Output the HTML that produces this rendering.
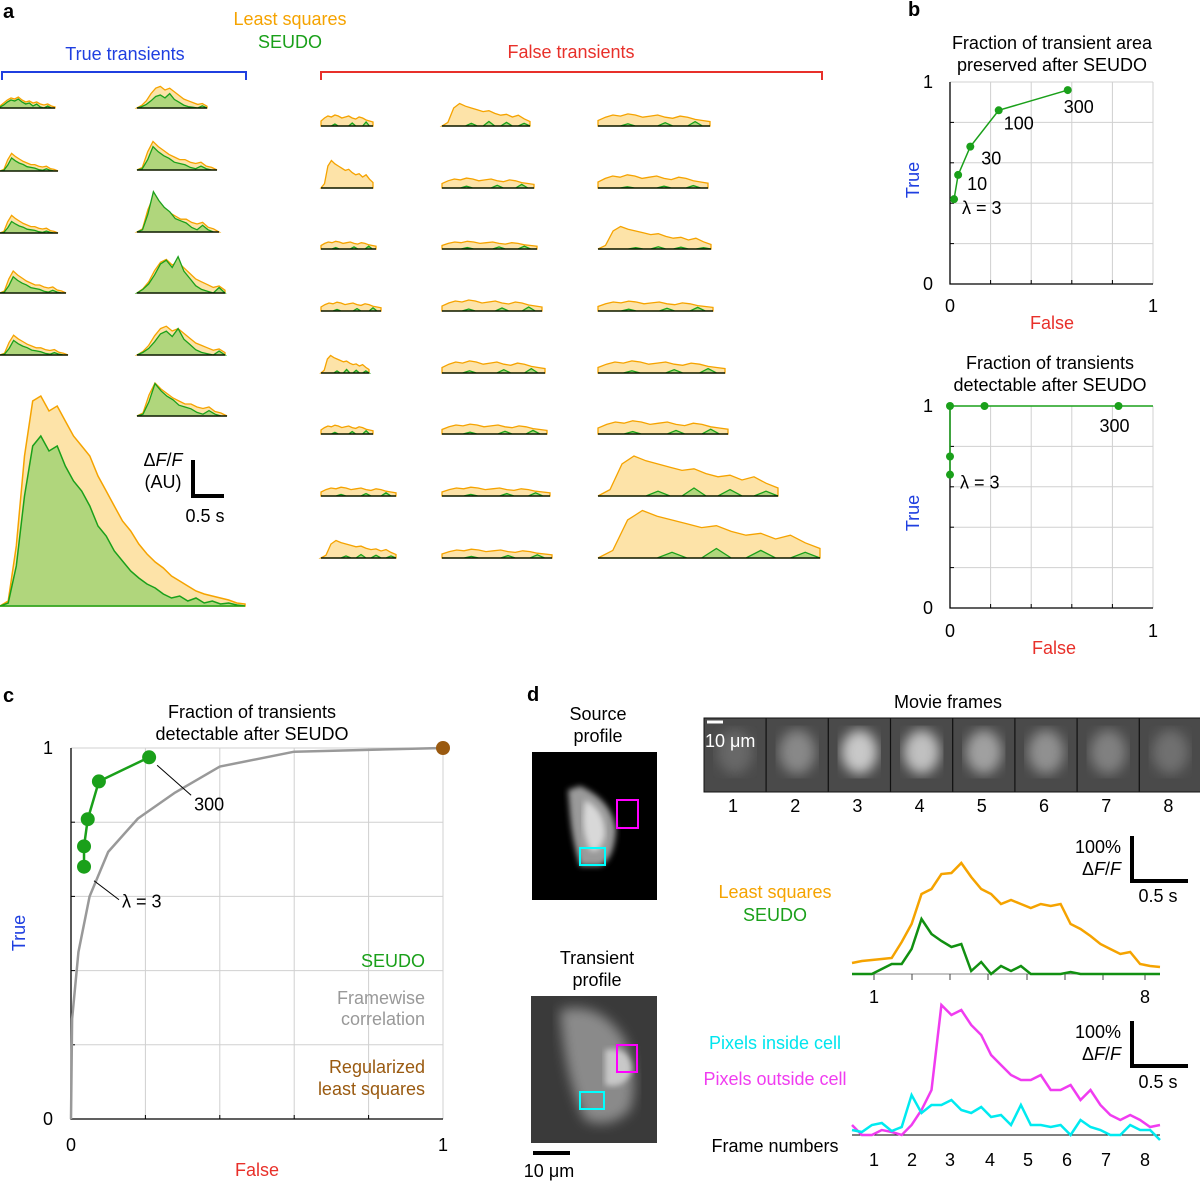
<!DOCTYPE html>
<html><head><meta charset="utf-8">
<style>
html,body{margin:0;padding:0;background:#fff}
svg{display:block;font-family:"Liberation Sans",sans-serif}
svg text{font-size:18px}
svg text.plabel{font-size:20px}
</style></head>
<body>
<svg id="fig" width="1200" height="1181" viewBox="0 0 1200 1181" xmlns="http://www.w3.org/2000/svg">
<defs>
<filter id="blur3"><feGaussianBlur stdDeviation="3"/></filter>
<filter id="blur6"><feGaussianBlur stdDeviation="6"/></filter>
</defs>
<g>
<text class="plabel" x="3" y="18" font-weight="bold">a</text>
<text x="290" y="25" fill="#f5a300" text-anchor="middle">Least squares</text>
<text x="290" y="48" fill="#1aa01a" text-anchor="middle">SEUDO</text>
<text x="125" y="60" fill="#1f3fe0" text-anchor="middle">True transients</text>
<path d="M2,80 V72 H246 V80" fill="none" stroke="#1f3fe0" stroke-width="2"/>
<text x="571" y="58" fill="#e8302a" text-anchor="middle">False transients</text>
<path d="M321,80 V72 H822 V80" fill="none" stroke="#e8302a" stroke-width="2"/>
<g id="traces"></g>
<g>
<text x="163" y="466" text-anchor="middle"><tspan>Δ</tspan><tspan font-style="italic">F</tspan><tspan>/</tspan><tspan font-style="italic">F</tspan></text>
<text x="163" y="488" text-anchor="middle">(AU)</text>
<path d="M193,460 V496 H224" fill="none" stroke="#000" stroke-width="4"/>
<text x="205" y="522" text-anchor="middle">0.5 s</text>
</g>
</g>
<g>
<text class="plabel" x="908" y="16" font-weight="bold">b</text>
<text x="1052" y="49" text-anchor="middle">Fraction of transient area</text>
<text x="1052" y="71" text-anchor="middle">preserved after SEUDO</text>
<g id="b1"></g>
<text x="1050" y="369" text-anchor="middle">Fraction of transients</text>
<text x="1050" y="391" text-anchor="middle">detectable after SEUDO</text>
<g id="b2"></g>
</g>
<g>
<text class="plabel" x="3" y="702" font-weight="bold">c</text>
<text x="252" y="718" text-anchor="middle">Fraction of transients</text>
<text x="252" y="740" text-anchor="middle">detectable after SEUDO</text>
<g id="cplot"></g>
<text x="425" y="967" fill="#1aa01a" text-anchor="end">SEUDO</text>
<text x="425" y="1004" fill="#999" text-anchor="end">Framewise</text>
<text x="425" y="1025" fill="#999" text-anchor="end">correlation</text>
<text x="425" y="1073" fill="#9a5a10" text-anchor="end">Regularized</text>
<text x="425" y="1095" fill="#9a5a10" text-anchor="end">least squares</text>
</g>
<g>
<text class="plabel" x="527" y="701" font-weight="bold">d</text>
<text x="598" y="720" text-anchor="middle">Source</text>
<text x="598" y="742" text-anchor="middle">profile</text>
<g>
<rect x="532" y="752" width="125" height="148" fill="#000"/>
<path d="M568,790 L580,786 Q612,800 616,830 Q614,860 600,866 L580,866 Q572,840 570,815 Z" fill="#9a9a9a" filter="url(#blur3)"/>
<path d="M585,800 Q605,810 605,835 Q600,855 590,850 Q580,830 585,800Z" fill="#d8d8d8" filter="url(#blur3)"/>
<rect x="617" y="800" width="21" height="28" fill="none" stroke="#f0f" stroke-width="2"/>
<rect x="580" y="848" width="25" height="17" fill="none" stroke="#0ff" stroke-width="2"/>
</g>
<text x="597" y="964" text-anchor="middle">Transient</text>
<text x="597" y="986" text-anchor="middle">profile</text>
<g>
<rect x="531" y="996" width="126" height="147" fill="#3a3a3a"/>
<path d="M560,1010 Q600,1000 625,1040 Q640,1080 630,1110 Q610,1130 585,1120 Q565,1080 560,1010Z" fill="#8a8a8a" filter="url(#blur6)"/>
<path d="M605,1050 Q630,1045 632,1070 Q625,1090 605,1085Z" fill="#c8c8c8" filter="url(#blur3)"/>
<rect x="617" y="1045" width="20" height="27" fill="none" stroke="#f0f" stroke-width="2"/>
<rect x="580" y="1092" width="24" height="17" fill="none" stroke="#0ff" stroke-width="2"/>
<line x1="533" y1="1153" x2="570" y2="1153" stroke="#000" stroke-width="4"/>
<text x="549" y="1177" text-anchor="middle">10 μm</text>
</g>
<text x="948" y="708" text-anchor="middle">Movie frames</text>
<g id="frames"></g>
<g id="dtr"></g>
<text x="775" y="898" fill="#f5a300" text-anchor="middle">Least squares</text>
<text x="775" y="921" fill="#1aa01a" text-anchor="middle">SEUDO</text>
<text x="775" y="1049" fill="#00e5ee" text-anchor="middle">Pixels inside cell</text>
<text x="775" y="1085" fill="#f03cf0" text-anchor="middle">Pixels outside cell</text>
<text x="775" y="1152" text-anchor="middle">Frame numbers</text>
<g>
<text x="1121" y="853" text-anchor="end">100%</text>
<text x="1121" y="875" text-anchor="end"><tspan>Δ</tspan><tspan font-style="italic">F</tspan>/<tspan font-style="italic">F</tspan></text>
<path d="M1132,836 V881 H1188" fill="none" stroke="#000" stroke-width="4"/>
<text x="1158" y="902" text-anchor="middle">0.5 s</text>
</g>
<g>
<text x="1121" y="1038" text-anchor="end">100%</text>
<text x="1121" y="1060" text-anchor="end"><tspan>Δ</tspan><tspan font-style="italic">F</tspan>/<tspan font-style="italic">F</tspan></text>
<path d="M1132,1021 V1066 H1188" fill="none" stroke="#000" stroke-width="4"/>
<text x="1158" y="1088" text-anchor="middle">0.5 s</text>
</g>
</g>
</svg>
<script>
var tplOrange = [
 [2,5,8,10,9,11,8,6,7,5,6,4,3,4,2,1],
 [0,2,14,22,18,15,12,10,8,8,6,5,6,3,2,0],
 [5,8,10,9,11,10,8,9,10,8,7,9,8,6,5,4],
 [0,4,20,25,22,20,18,16,17,14,12,13,10,12,8,5],
 [0,3,8,16,22,24,20,22,18,14,10,8,6,4,5,2]
];
var tplGreen = [
 [1,3,6,8,7,9,6,4,5,2,4,1,0,2,0,0],
 [0,1,8,18,14,11,9,6,5,4,2,1,3,1,0,0],
 [0,0,0,0,2,0,0,0,0,3,0,0,0,4,0,0],
 [0,0,0,0,0,3,0,0,5,0,0,4,0,0,3,0],
 [0,2,5,10,16,18,14,20,12,8,4,2,1,0,3,0]
];
var trueTraces = [
 [0,108,55,0,1,1],[0,171,58,1,0.8,0.9],[0,233,58,1,0.8,0.8],[0,293,66,1,1.0,0.9],[0,355,68,1,0.9,0.9],
 [137,108,70,4,0.9,0.8],[137,170,80,1,1.3,1.0],[137,232,82,1,1.6,1.4],[137,293,88,4,1.4,1.3],[137,355,88,4,1.2,1.1],[137,416,90,1,1.5,1.2]
];
var falseTraces = [
 [321,126,52,2,1.0,1],[442,126,88,3,0.9,1],[598,126,112,2,1.1,1],
 [321,188,52,3,1.1,0],[442,188,92,2,0.9,1],[598,188,110,2,1.2,0.5],
 [321,249,55,2,0.7,1],[442,249,95,2,0.7,1],[598,249,113,3,0.9,0.5],
 [321,311,60,2,0.8,1],[442,311,100,2,1.0,1],[598,311,115,2,0.9,1],
 [321,373,48,3,0.7,1],[442,373,103,2,1.1,1],[598,373,127,2,1.1,1],
 [321,434,52,2,0.8,1],[442,434,105,2,0.9,1],[598,434,130,2,1.2,1],
 [321,496,75,2,0.8,1],[442,496,108,2,0.8,1],[598,496,180,3,1.6,1],
 [321,558,75,3,0.7,1],[442,558,110,2,0.8,1],[598,558,222,3,1.9,1]
];
var bigOrange = [0,5,60,150,205,210,195,200,185,170,160,150,130,115,100,85,75,62,52,44,38,30,25,20,15,12,10,8,6,3,2];
var bigGreen  = [0,3,40,110,160,170,155,160,140,125,115,100,80,70,55,45,35,28,22,18,12,8,10,5,8,3,5,2,3,1,0];

var bTopX = [0.02,0.04,0.1,0.24,0.58];
var bTopY = [0.42,0.54,0.68,0.86,0.96];
var bTopLabels = ["λ = 3","10","30","100","300"];
var bBotX = [0,0,0,0.17,0.83];
var bBotY = [0.66,0.75,1,1,1];
var cSeudoX = [0.035,0.035,0.045,0.075,0.21];
var cSeudoY = [0.68,0.735,0.808,0.91,0.975];
var cCorrX = [0,0.003,0.02,0.05,0.1,0.18,0.28,0.4,0.6,1];
var cCorrY = [0,0.27,0.45,0.6,0.72,0.81,0.88,0.95,0.99,1];
var cBrownX = [1], cBrownY = [1];
var dOrange = [11,13,14,15,16,32,50,80,85,100,101,111,97,85,80,70,74,70,66,70,68,70,50,45,38,30,25,20,22,10,8,7];
var dGreen  = [0,0,0,5,10,10,25,55,40,33,27,30,3,12,0,8,3,8,0,0,0,0,2,0,0,0,0,0,0,0,0,0];
var dCyan   = [5,3,10,12,4,8,40,22,30,30,35,25,22,28,18,20,10,30,10,10,8,10,0,15,8,5,0,0,10,5,5,-5];
var dMagenta= [10,0,0,5,3,0,10,25,45,130,120,125,110,100,80,70,60,55,55,60,45,45,50,35,45,30,20,15,20,15,8,10];
var frameLabels = ["1","2","3","4","5","6","7","8"];
var frameBright = [0.15,0.35,0.75,0.7,0.5,0.4,0.3,0.2];

var NS="http://www.w3.org/2000/svg";
function mk(tag,attrs,parent){var e=document.createElementNS(NS,tag);for(var k in attrs)e.setAttribute(k,attrs[k]);parent.appendChild(e);return e;}
var OR="#f5a300", ORF="#fde3a8", GR="#1aa01a", GRF="#b0d67c";

function areaPath(x0,base,w,vals,s){
  var n=vals.length,d="M"+x0+","+base;
  for(var i=0;i<n;i++){d+=" L"+(x0+w*i/(n-1)).toFixed(1)+","+(base-vals[i]*s).toFixed(1);}
  return d+" L"+(x0+w)+","+base+" Z";
}
function linePath(x0,base,w,vals,s){
  var n=vals.length,d="";
  for(var i=0;i<n;i++){d+=(i?" L":"M")+(x0+w*i/(n-1)).toFixed(1)+","+(base-vals[i]*s).toFixed(1);}
  return d;
}
var tr=document.getElementById("traces");
function drawTrace(t,kind){
  var g=mk("g",{},tr);
  
  
  var o=tplOrange[t[3]],gr=tplGreen[t[3]];
  mk("path",{d:areaPath(t[0],t[1],t[2],o,t[4]),fill:ORF,stroke:OR,"stroke-width":1.3},g);
  mk("path",{d:areaPath(t[0],t[1],t[2],gr,t[4]*t[5]),fill:GRF,stroke:GR,"stroke-width":1.3},g);
  mk("line",{x1:t[0],y1:t[1],x2:t[0]+t[2],y2:t[1],stroke:"#000","stroke-width":1.3},g);
}
trueTraces.forEach(function(t){drawTrace(t,'true');});
falseTraces.forEach(function(t){drawTrace(t,'false');});
(function(){
  var g=mk("g",{},tr);
  
  
  mk("path",{d:areaPath(0,606,245,bigOrange,1),fill:ORF,stroke:OR,"stroke-width":1.5},g);
  mk("path",{d:areaPath(0,606,245,bigGreen,1),fill:GRF,stroke:GR,"stroke-width":1.5},g);
})();

function scatterPlot(gid,x0,y0,x1,y1){
  var g=document.getElementById(gid);
  var sx=function(v){return x0+(x1-x0)*v;}, sy=function(v){return y1-(y1-y0)*v;};
  for(var i=1;i<5;i++){
    mk("line",{x1:sx(i/5),y1:y0,x2:sx(i/5),y2:y1,stroke:"#d0d0d0","stroke-width":1},g);
    mk("line",{x1:x0,y1:sy(i/5),x2:x1,y2:sy(i/5),stroke:"#d0d0d0","stroke-width":1},g);
    mk("line",{x1:x0,y1:sy(i/5),x2:x0+4,y2:sy(i/5),stroke:"#000","stroke-width":1},g);
    mk("line",{x1:sx(i/5),y1:y1,x2:sx(i/5),y2:y1-4,stroke:"#000","stroke-width":1},g);
  }
  mk("line",{x1:x0,y1:y0,x2:x1,y2:y0,stroke:"#d0d0d0"},g);
  mk("line",{x1:x1,y1:y0,x2:x1,y2:y1,stroke:"#d0d0d0"},g);
  mk("path",{d:"M"+x0+","+y0+" V"+y1+" H"+x1,fill:"none",stroke:"#000","stroke-width":1.3},g);
  return {g:g,sx:sx,sy:sy};
}
function tickText(g,x,y,t,anchor){var e=mk("text",{x:x,y:y,"text-anchor":anchor||"middle"},g);e.textContent=t;return e;}

(function(){
  var p=scatterPlot("b1",950,82,1153,284);
  var d="";bTopX.forEach(function(v,i){d+=(i?" L":"M")+p.sx(v)+","+p.sy(bTopY[i]);});
  var ln=mk("path",{d:d,fill:"none",stroke:GR,"stroke-width":1.5},p.g);
  
  
  var offs=[[8,15],[9,15],[11,18],[5,19],[-4,23]];
  bTopX.forEach(function(v,i){
    var c=mk("circle",{cx:p.sx(v),cy:p.sy(bTopY[i]),r:4,fill:GR},p.g);
    
    
    var t=mk("text",{x:p.sx(v)+offs[i][0],y:p.sy(bTopY[i])+offs[i][1]},p.g);t.textContent=bTopLabels[i];
  });
  tickText(p.g,928,88,"1");tickText(p.g,928,290,"0");tickText(p.g,950,312,"0");tickText(p.g,1153,312,"1");
  var yt=mk("text",{x:919,y:180,fill:"#1f3fe0","text-anchor":"middle",transform:"rotate(-90 919 180)"},p.g);yt.textContent="True";
  var xt=mk("text",{x:1052,y:329,fill:"#e8302a","text-anchor":"middle"},p.g);xt.textContent="False";
})();
(function(){
  var p=scatterPlot("b2",950,406,1153,608);
  var d="M"+p.sx(bBotX[0])+","+p.sy(bBotY[0]);bBotX.forEach(function(v,i){d+=" L"+p.sx(v)+","+p.sy(bBotY[i]);});
  d+=" L"+p.sx(1)+","+p.sy(1);
  var ln=mk("path",{d:d,fill:"none",stroke:GR,"stroke-width":1.5},p.g);
  
  
  bBotX.forEach(function(v,i){
    var c=mk("circle",{cx:p.sx(v),cy:p.sy(bBotY[i]),r:4,fill:GR},p.g);
    
    
  });
  var t1=mk("text",{x:p.sx(bBotX[0])+10,y:p.sy(bBotY[0])+14},p.g);t1.textContent="λ = 3";
  var t2=mk("text",{x:p.sx(bBotX[4])-19,y:p.sy(bBotY[4])+26},p.g);t2.textContent="300";
  tickText(p.g,928,614,"0");tickText(p.g,928,412,"1");tickText(p.g,950,637,"0");tickText(p.g,1153,637,"1");
  var yt=mk("text",{x:919,y:513,fill:"#1f3fe0","text-anchor":"middle",transform:"rotate(-90 919 513)"},p.g);yt.textContent="True";
  var xt=mk("text",{x:1054,y:654,fill:"#e8302a","text-anchor":"middle"},p.g);xt.textContent="False";
})();
(function(){
  var p=scatterPlot("cplot",71,748,443,1119);
  var d="";cCorrX.forEach(function(v,i){d+=(i?" L":"M")+p.sx(v)+","+p.sy(cCorrY[i]);});
  var gl=mk("path",{d:d,fill:"none",stroke:"#999","stroke-width":2.5,"stroke-linejoin":"round"},p.g);
  
  
  d="";cSeudoX.forEach(function(v,i){d+=(i?" L":"M")+p.sx(v)+","+p.sy(cSeudoY[i]);});
  var sl=mk("path",{d:d,fill:"none",stroke:GR,"stroke-width":2.5},p.g);
  
  
  cSeudoX.forEach(function(v,i){
    var c=mk("circle",{cx:p.sx(v),cy:p.sy(cSeudoY[i]),r:7,fill:GR},p.g);
    
    
  });
  cBrownX.forEach(function(v,i){
    var c=mk("circle",{cx:p.sx(v),cy:p.sy(cBrownY[i]),r:7,fill:"#9a5a10"},p.g);
    
    
  });
  var a=p.sx(cSeudoX[0]),b=p.sy(cSeudoY[0]);
  mk("line",{x1:a+10,y1:b+14,x2:a+35,y2:b+33,stroke:"#000"},p.g);
  var t=mk("text",{x:a+38,y:b+41},p.g);t.textContent="λ = 3";
  a=p.sx(cSeudoX[4]);b=p.sy(cSeudoY[4]);
  mk("line",{x1:a+8,y1:b+8,x2:a+42,y2:b+38,stroke:"#000"},p.g);
  t=mk("text",{x:a+45,y:b+53},p.g);t.textContent="300";
  tickText(p.g,48,754,"1");tickText(p.g,48,1125,"0");tickText(p.g,71,1151,"0");tickText(p.g,443,1151,"1");
  var yt=mk("text",{x:25,y:933,fill:"#1f3fe0","text-anchor":"middle",transform:"rotate(-90 25 933)"},p.g);yt.textContent="True";
  var xt=mk("text",{x:257,y:1176,fill:"#e8302a","text-anchor":"middle"},p.g);xt.textContent="False";
})();
(function(){
  var g=document.getElementById("frames");
  mk("rect",{x:704,y:718,width:496,height:74,fill:"#3c3c3c"},g);
  frameLabels.forEach(function(l,i){
    var x=704+i*62.2;
    var fg=mk("g",{},g);
    
    
    mk("rect",{x:x,y:718,width:62,height:74,fill:"#4a4a4a",stroke:"#111","stroke-width":1},fg);
    var v=Math.round(80+frameBright[i]*160);
    mk("ellipse",{cx:x+31,cy:752,rx:18,ry:22,fill:"rgb("+v+","+v+","+v+")",filter:"url(#blur6)"},fg);
    var t=mk("text",{x:x+29,y:812,"text-anchor":"middle"},g);t.textContent=l;
  });
  mk("line",{x1:707,y1:722,x2:723,y2:722,stroke:"#fff","stroke-width":3},g);
  var t=mk("text",{x:705,y:747,fill:"#fff"},g);t.textContent="10 μm";
})();
(function(){
  var g=document.getElementById("dtr");
  var x0=852,w=308;
  mk("line",{x1:x0,y1:974,x2:x0+w,y2:974,stroke:"#888","stroke-width":1},g);
  [874,912,950,988,1027,1065,1103,1145].forEach(function(x){mk("line",{x1:x,y1:974,x2:x,y2:980,stroke:"#444"},g);});
  tickText(g,874,1003,"1");tickText(g,1145,1003,"8");
  var o=mk("path",{d:linePath(x0,974,w,dOrange,1),fill:"none",stroke:OR,"stroke-width":2.5},g);
  
  
  var gr=mk("path",{d:linePath(x0,974,w,dGreen,1),fill:"none",stroke:"#119011","stroke-width":2.5},g);
  
  
  mk("line",{x1:x0,y1:1135,x2:x0+w,y2:1135,stroke:"#000","stroke-width":1},g);
  var m=mk("path",{d:linePath(x0,1135,w,dMagenta,1),fill:"none",stroke:"#f03cf0","stroke-width":2.5},g);
  
  
  var c=mk("path",{d:linePath(x0,1135,w,dCyan,1),fill:"none",stroke:"#00eaf0","stroke-width":2.5},g);
  
  
  [874,912,950,990,1028,1067,1106,1145].forEach(function(x,i){tickText(g,x,1166,frameLabels[i]);});
})();
</script>
</body></html>
